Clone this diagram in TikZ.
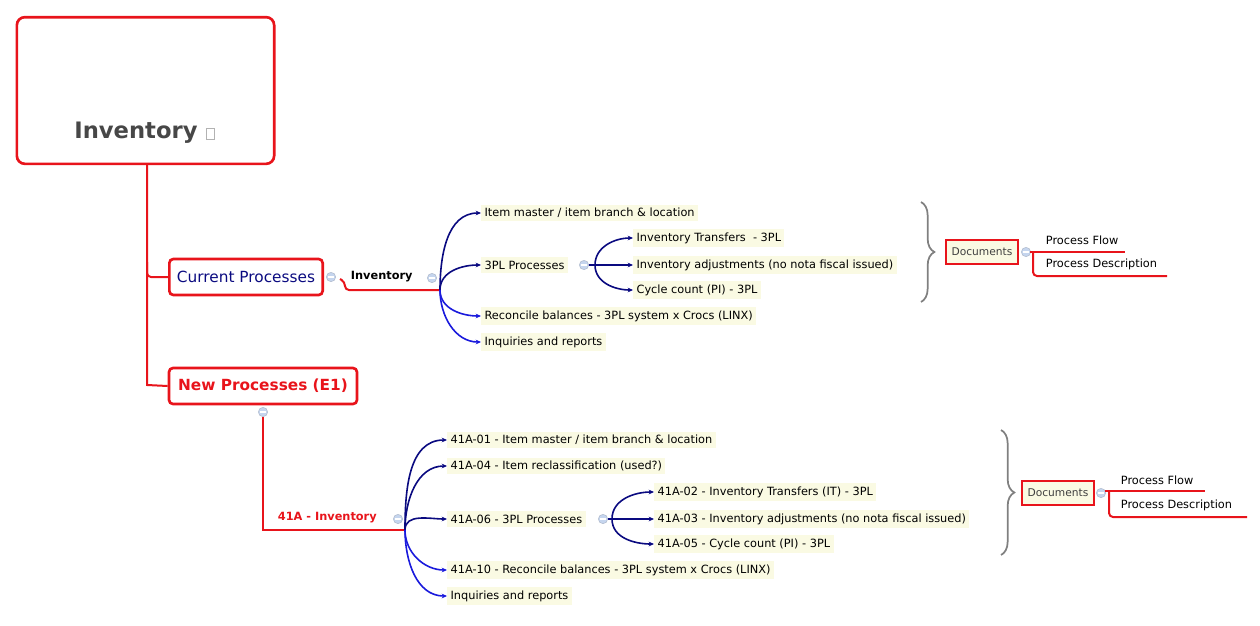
\documentclass[tikz,border=0pt]{standalone}
\usepackage{fontspec}
\setmainfont{DejaVu Sans}
\usetikzlibrary{arrows.meta,decorations.pathreplacing}
\definecolor{rd}{HTML}{E8141B}
\definecolor{nv}{HTML}{0A0A80}
\definecolor{bl}{HTML}{1A1ADC}
\definecolor{bg}{HTML}{FAFAE3}
\definecolor{mn}{HTML}{C5D5EE}
\tikzset{
 lbl/.style={anchor=west,fill=bg,font=\fontsize{8.5}{10}\selectfont,inner sep=2.5pt},
 plain/.style={anchor=west,font=\fontsize{8.5}{10}\selectfont,inner sep=2pt},
 con/.style={line width=1.2pt,-{Stealth[length=4pt,width=3.5pt]}},
 rl/.style={rd,line width=1.5pt},
 mnus/.style={circle,draw=mn!70!gray,fill=mn,inner sep=0pt,minimum size=7pt,
   path picture={\draw[white,line width=0.8pt] ([xshift=-2pt]path picture bounding box.center) -- ([xshift=2pt]path picture bounding box.center);}},
 brc/.style={gray,line width=1.3pt,decorate,decoration={brace,amplitude=10pt}},
 doc/.style={draw=rd,line width=1.3pt,fill=bg,font=\fontsize{8}{10}\selectfont,inner sep=4pt,text=black!75,minimum height=18pt}
}
\begin{document}
\begin{tikzpicture}[x=0.75pt,y=-0.75pt]
\useasboundingbox (0,0) rectangle (1260,625);
% root
\node[draw=rd,line width=2pt,rounded corners=6pt,minimum width=193pt,minimum height=110pt] (root) at (145.5,90.5) {};
\node[font=\bfseries\fontsize{17}{19}\selectfont,text=black!72] (rt) at (136,133) {Inventory};
\node[draw=gray!60,fill=white,minimum width=6pt,minimum height=8pt,inner sep=0pt] (ic) at (210,134) {};
% level 1
\node[draw=rd,line width=2pt,rounded corners=3pt,minimum width=115pt,minimum height=27pt,text=nv,font=\fontsize{11.5}{13}\selectfont] (cur) at (246,277) {Current Processes};
\node[draw=rd,line width=2pt,rounded corners=3pt,minimum width=141pt,minimum height=27pt,text=rd,font=\bfseries\fontsize{11.5}{13}\selectfont] (new) at (263,386) {New Processes (E1)};
\coordinate (j1) at (147,277);
\coordinate (j2) at (147,385);
\draw[rl] (root.south-|j1) -- (j2) [rounded corners=3pt] -- (new.west);
\draw[rl,rounded corners=3pt] (j1|-0,262) |- (cur.west);
% current
\node[mnus] (m1) at (331,277) {};
\node[plain,font=\bfseries\fontsize{8.5}{10}\selectfont] (inv) at (348,277) {Inventory};
\node[mnus] (m2) at (432,278) {};
\coordinate (h1) at (440,290);
\draw[rl,rounded corners=3pt] (340,279) -- (345,282) -- (345,290) -- (h1);
\node[lbl] (a1) at (481,213) {Item master / item branch \& location};
\node[lbl] (a2) at (481,265) {3PL Processes};
\node[lbl] (a3) at (481,316) {Reconcile balances - 3PL system x Crocs (LINX)};
\node[lbl] (a4) at (481,342) {Inquiries and reports};
\draw[con,nv] (h1) to[out=90,in=180] (a1.west);
\draw[con,nv] (h1) to[out=90,in=180] (a2.west);
\draw[con,bl] (h1) to[out=-90,in=180] (a3.west);
\draw[con,bl] (h1) to[out=-90,in=180] (a4.west);
\node[mnus] (m3) at (584,265) {};
\coordinate (h2) at (595,265);
\node[lbl] (b1) at (633,238) {Inventory Transfers\ \ - 3PL};
\node[lbl] (b2) at (633,265) {Inventory adjustments (no nota fiscal issued)};
\node[lbl] (b3) at (633,290) {Cycle count (PI) - 3PL};
\draw[con,nv] (h2) to[out=90,in=180] (b1.west);
\draw[con,nv] (m3.east) -- (b2.west);
\draw[con,nv] (h2) to[out=-90,in=180] (b3.west);
\draw[brc] (921,202) -- (921,302);
\node[doc] (d1) at (982,252) {Documents};
\node[mnus] (m4) at (1026,252) {};
\node[plain] (p1) at (1043,240) {Process Flow};
\node[plain] (p2) at (1043,264) {Process Description};
\draw[rl] (1030,252) -- (1125,252);
\draw[rl,rounded corners=3pt] (1033,252) |- (1167,276);
% new
\node[mnus] (m5) at (263,412) {};
\coordinate (h3) at (405,530);
\draw[rl] (m5.south) -- (263,530) -- (h3);
\node[plain,text=rd,font=\bfseries\fontsize{8.5}{10}\selectfont] (inv2) at (275,518) {41A - Inventory};
\node[mnus] (m6) at (398,519) {};
\node[lbl] (c1) at (447,440) {41A-01 - Item master / item branch \& location};
\node[lbl] (c2) at (447,466) {41A-04 - Item reclassification (used?)};
\node[lbl] (c3) at (447,519) {41A-06 - 3PL Processes};
\node[lbl] (c4) at (447,570) {41A-10 - Reconcile balances - 3PL system x Crocs (LINX)};
\node[lbl] (c5) at (447,596) {Inquiries and reports};
\draw[con,nv] (h3) to[out=90,in=180] (c1.west);
\draw[con,nv] (h3) to[out=90,in=180] (c2.west);
\draw[con,nv] (h3) to[out=90,in=180] (c3.west);
\draw[con,bl] (h3) to[out=-90,in=180] (c4.west);
\draw[con,bl] (h3) to[out=-90,in=180] (c5.west);
\node[mnus] (m7) at (603,519) {};
\coordinate (h4) at (612,519);
\node[lbl] (e1) at (654,492) {41A-02 - Inventory Transfers (IT) - 3PL};
\node[lbl] (e2) at (654,519) {41A-03 - Inventory adjustments (no nota fiscal issued)};
\node[lbl] (e3) at (654,544) {41A-05 - Cycle count (PI) - 3PL};
\draw[con,nv] (h4) to[out=90,in=180] (e1.west);
\draw[con,nv] (m7.east) -- (e2.west);
\draw[con,nv] (h4) to[out=-90,in=180] (e3.west);
\draw[brc] (1001,430) -- (1001,555);
\node[doc] (d2) at (1058,493) {Documents};
\node[mnus] (m8) at (1101,493) {};
\node[plain] (q1) at (1118,480) {Process Flow};
\node[plain] (q2) at (1118,505) {Process Description};
\draw[rl] (1105,491) -- (1205,491);
\draw[rl,rounded corners=3pt] (1109,491) |- (1247,517);
\end{tikzpicture}
\end{document}
